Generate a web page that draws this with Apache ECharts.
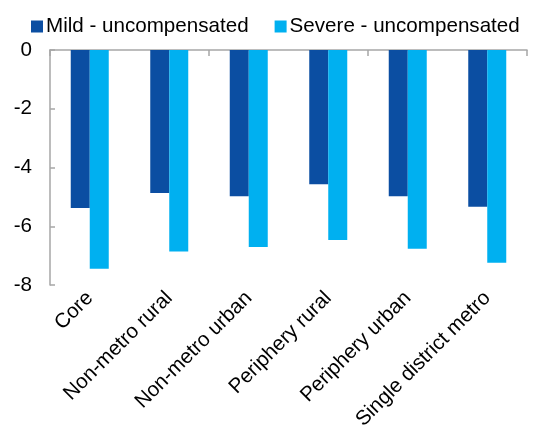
<!DOCTYPE html>
<html>
<head>
<meta charset="utf-8">
<script src="https://cdn.jsdelivr.net/npm/echarts@6/dist/echarts.min.js"></script>
<style>
  html, body { margin: 0; padding: 0; background: #fff; }
  #chart { width: 535px; height: 440px; }
</style>
</head>
<body>
<div id="chart"></div>
<script>
const categories = ["Core", "Non-metro rural", "Non-metro urban", "Periphery rural", "Periphery urban", "Single district metro"];
const mild = [-5.38, -4.87, -4.98, -4.57, -4.98, -5.34];
const severe = [-7.45, -6.86, -6.71, -6.47, -6.77, -7.24];
const yTicks = { min: -8, max: 0, interval: 2 };

const font = "Liberation Sans, Arial, sans-serif";
const axisGrey = "#a6a6a6";
const fs = 20.6;

const chart = echarts.init(document.getElementById("chart"), null, { renderer: "canvas" });

chart.setOption({
  animation: false,
  textStyle: { fontFamily: font },
  legend: {
    left: 26,
    top: 11,
    itemWidth: 12,
    itemHeight: 12,
    itemGap: 26,
    icon: "rect",
    textStyle: { fontSize: fs, color: "#000", fontFamily: font, padding: [0, 0, 0, -2] },
    data: ["Mild - uncompensated", "Severe - uncompensated"]
  },
  grid: { left: 50, right: 8, top: 50, bottom: 155, containLabel: false },
  xAxis: [
    {
      // labels at the bottom
      type: "category",
      data: categories,
      position: "bottom",
      axisLine: { show: false, onZero: false },
      axisTick: { show: false },
      axisLabel: {
        rotate: 45,
        fontSize: fs,
        color: "#000",
        fontFamily: font,
        margin: 10,
        interval: 0
      }
    },
    {
      // line along zero at the top, ticks pointing down
      type: "category",
      data: categories,
      position: "top",
      axisLine: { show: true, onZero: false, lineStyle: { color: axisGrey, width: 1.5 } },
      axisTick: { show: true, inside: true, length: 6, lineStyle: { color: axisGrey, width: 1.5 } },
      axisLabel: { show: false }
    }
  ],
  yAxis: {
    type: "value",
    min: yTicks.min,
    max: yTicks.max,
    interval: yTicks.interval,
    axisLine: { show: true, lineStyle: { color: axisGrey, width: 1.5 } },
    axisTick: { show: true, inside: true, length: 5, lineStyle: { color: axisGrey, width: 1.5 } },
    splitLine: { show: false },
    axisLabel: { fontSize: fs, color: "#000", fontFamily: font, margin: 18 }
  },
  series: [
    {
      name: "Mild - uncompensated",
      type: "bar",
      data: mild,
      barWidth: 19,
      barGap: "0%",
      itemStyle: { color: "#0b4ea2" }
    },
    {
      name: "Severe - uncompensated",
      type: "bar",
      data: severe,
      barWidth: 19,
      barGap: "0%",
      itemStyle: { color: "#00b0f0" }
    }
  ]
});
</script>
</body>
</html>
